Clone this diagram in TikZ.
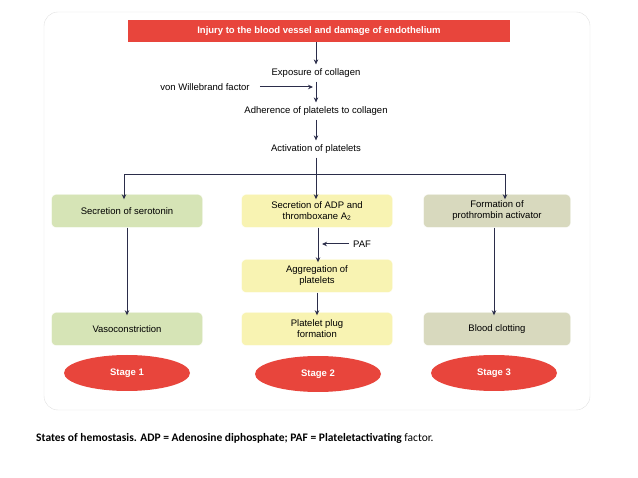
\documentclass[tikz,border=0pt]{standalone}
\usepackage{fontspec}
\setmainfont{Liberation Sans}
\newfontfamily\capfont{Carlito}
\usetikzlibrary{positioning,shapes.geometric,arrows.meta}
\definecolor{injred}{HTML}{E8453C}
\definecolor{boxgreen}{HTML}{D6E4B6}
\definecolor{boxyellow}{HTML}{F8F3B2}
\definecolor{boxolive}{HTML}{D8D9BE}
\definecolor{arrnavy}{HTML}{2B2D4A}
\tikzset{
  stepbox/.style={rounded corners=4pt,minimum width=151pt,minimum height=33pt,align=center,font=\fontsize{9.5}{11}\selectfont,draw=white},
  flowtxt/.style={font=\fontsize{9.5}{11}\selectfont,inner sep=4pt},
  stage/.style={ellipse,fill=injred,minimum width=126pt,minimum height=36pt,text=white,font=\bfseries\fontsize{9.5}{11}\selectfont},
  flow/.style={draw=arrnavy,line width=1pt,-{Stealth[length=5pt,width=4.5pt]}}
}
\begin{document}
\begin{tikzpicture}[x=1pt,y=-1pt]
\useasboundingbox (0,0) rectangle (638,478);

% frame
\draw [black!12,rounded corners=14pt] (44,12) rectangle (590,410);

% Text Node
\node (inj) [fill=injred,minimum width=382pt,minimum height=22pt,text=white,font=\bfseries\fontsize{9.5}{11}\selectfont] at (319,31) {Injury to the blood vessel and damage of endothelium};
\node (expo) [flowtxt] at (316,73) {Exposure of collagen};
\node (vwf) [flowtxt] at (205,87) {von Willebrand factor};
\node (adh) [flowtxt] at (316,111) {Adherence of platelets to collagen};
\node (act) [flowtxt] at (316,149) {Activation of platelets};
\coordinate (split) at (316,175);
\coordinate (vwfin) at (313,87);

% boxes
\node (sero) [stepbox,fill=boxgreen] at (127,211) {Secretion of serotonin};
\node (adp) [stepbox,fill=boxyellow] at (317,211) {Secretion of ADP and\\thromboxane A\textsubscript{2}};
\node (prot) [stepbox,fill=boxolive,minimum width=147pt] at (497,211) {Formation of\\prothrombin activator};
\node (aggr) [stepbox,fill=boxyellow] at (317,276) {Aggregation of\\platelets};
\node (vaso) [stepbox,fill=boxgreen] at (127,329) {Vasoconstriction};
\node (plug) [stepbox,fill=boxyellow] at (317,329) {Platelet plug\\formation};
\node (clot) [stepbox,fill=boxolive,minimum width=147pt] at (497,329) {Blood clotting};
\node (paf) [flowtxt,anchor=west] at (349,244) {PAF};
\coordinate (pafin) at (322,244);

% stages
\node (st1) [stage] at (127,373) {Stage 1};
\node (st2) [stage] at (318,374) {Stage 2};
\node (st3) [stage] at (494,373) {Stage 3};

% arrows
\draw [flow] (inj.south -| expo) -- (expo);
\draw [flow] (expo) -- (adh);
\draw [flow] ([xshift=6pt]vwf.east) -- (vwfin);
\draw [flow] (adh) -- (act);
\draw [draw=arrnavy,line width=1pt] (act) -- (split);
\draw [flow] (split) -| ([xshift=-3pt,yshift=-5pt]sero.north);
\draw [flow] (split) -- ([xshift=-1pt,yshift=-5pt]adp.north);
\draw [flow] (split) -| ([xshift=8pt,yshift=-5pt]prot.north);
\draw [flow] (sero) -- ([yshift=-3pt]vaso.north);
\draw [flow] ([xshift=1pt]adp.south) -- ([xshift=1pt,yshift=-3pt]aggr.north);
\draw [flow] (paf) -- (pafin);
\draw [flow] (aggr) -- ([yshift=-3pt]plug.north);
\draw [flow] ([xshift=-3pt]prot.south) -- ([xshift=-3pt,yshift=-3pt]clot.north);

% caption
\node (cap) [anchor=west,inner sep=0pt,font=\capfont\fontsize{11.5}{13}\selectfont] at (36,438) {\textbf{States of hemostasis. ADP = Adenosine diphosphate; PAF = Plateletactivating} factor.};
\end{tikzpicture}
\end{document}
